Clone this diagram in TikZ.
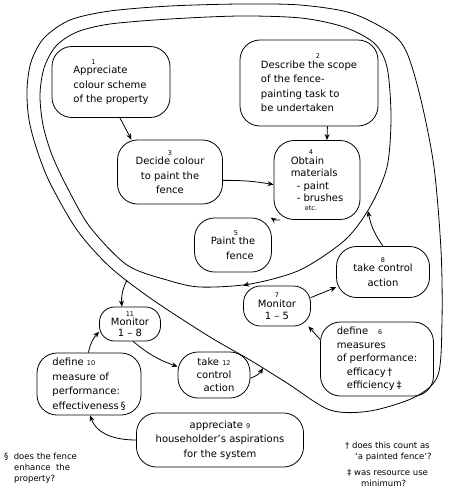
\documentclass[tikz,border=0pt]{standalone}
\usepackage{fontspec}
\setsansfont{DejaVu Sans}
\usetikzlibrary{arrows.meta}
\newcommand{\stepno}[1]{{\fontsize{6.5}{7}\selectfont #1}}
\begin{document}
\begin{tikzpicture}[x=1pt,y=-1pt]
    \tikzstyle{blob}=[draw,thick,rounded corners=20pt,inner sep=2pt,align=center,font=\sffamily\fontsize{10}{14.5}\selectfont]
    \tikzstyle{link}=[thick,-{Stealth[length=6pt,width=5pt]}]
    \tikzstyle{note}=[inner sep=0pt,align=left,anchor=north west,font=\sffamily\fontsize{8.5}{11}\selectfont]
    \useasboundingbox (0,0) rectangle (474,491);
    % the two system boundaries
    \draw[thick] plot[smooth cycle] coordinates {(240,4) (300,5) (351,13) (391,33) (407,53) (421,100) (434,167) (441,250) (442,320) (438,375) (415,397) (370,411) (330,410) (287,383) (250,360) (210,337) (153,300) (110,267) (77,230) (50,183) (37,150) (29,120) (27,90) (31,62) (44,38) (70,20) (110,11) (170,6)};
    \draw[thick] plot[smooth cycle] coordinates {(240,16) (301,18) (344,27) (374,43) (387,67) (391,117) (387,167) (370,207) (345,240) (300,270) (250,284) (200,287) (167,280) (127,265) (90,227) (67,187) (52,155) (43,125) (40,95) (44,68) (56,46) (77,32) (110,24) (170,19)};
    \coordinate (inA) at (368,211);
    \coordinate (inB) at (249,284);
    \coordinate (outA) at (127,280);
    \coordinate (outB) at (263,368);
    % inner system
    \node[blob,align=left,minimum width=118pt,minimum height=71pt] (appr) at (111,82) {\hspace*{18pt}\stepno{1}\\[-5pt]Appreciate\\colour scheme\\of the property};
    \node[blob,align=left,minimum width=138pt,minimum height=86pt] (scope) at (309,83) {\hspace*{55pt}\stepno{2}\\[-5pt]Describe the scope\\of the fence-\\painting task to\\be undertaken};
    \node[blob,minimum width=105pt,minimum height=64pt] (colour) at (170,172) {\stepno{3}\\[-5pt]Decide colour\\to paint the\\fence};
    \node[blob,align=left,minimum width=86pt,minimum height=79pt,font=\sffamily\fontsize{10}{12.5}\selectfont] (obtain) at (317,180) {\hspace*{18pt}\stepno{4}\\[-3pt]Obtain\\materials\\\hspace*{6pt}- paint\\\hspace*{6pt}- brushes\\[-4pt]\hspace*{14pt}{\fontsize{6.5}{7}\selectfont etc.}};
    \node[blob,minimum width=77pt,minimum height=54pt] (paint) at (233,245) {\hspace*{6pt}\stepno{5}\\[-5pt]Paint the\\\hspace*{14pt}fence};
    % monitoring and control
    \node[blob,minimum width=93pt,minimum height=51pt] (ctrl) at (383,272) {\stepno{8}\\[-5pt]take control\\action};
    \node[blob,rounded corners=17pt,minimum width=67pt,minimum height=40pt,font=\sffamily\fontsize{10}{12}\selectfont] (mon) at (277,306) {\stepno{7}\\[-2pt]Monitor\\1 -- 5};
    \node[blob,align=left,minimum width=113pt,minimum height=74pt,font=\sffamily\fontsize{10}{13.5}\selectfont] (meas) at (377,359) {define\hspace*{10pt}\stepno{6}\\measures\\of performance:\\\hspace*{10pt}efficacy\,\dag\\\hspace*{10pt}efficiency\,\ddag};
    \node[blob,rounded corners=15pt,minimum width=61pt,minimum height=34pt,inner sep=1pt,font=\sffamily\fontsize{10}{11}\selectfont] (monall) at (130,324) {\stepno{11}\\[-2pt]Monitor\\1 -- 8};
    \node[blob,align=left,minimum width=104pt,minimum height=62pt] (effect) at (89,384) {define \stepno{10}\\measure of\\performance:\\effectiveness\,\S};
    \node[blob,minimum width=72pt,minimum height=46pt,font=\sffamily\fontsize{10}{13}\selectfont] (act) at (214,375) {take \stepno{12}\\control\\\hspace*{10pt}action};
    \node[blob,minimum width=167pt,minimum height=54pt] (asp) at (220,440) {appreciate \stepno{9}\\householder's aspirations\\for the system};
    % connectors
    \draw[link] (appr.-76) -- (colour.140);
    \draw[link] (scope.-67) -- (obtain.76);
    \draw[link] (colour.-9) to[bend left=5] (obtain.186);
    \draw[link] (obtain.-133) to[bend left=20] (paint.36);
    \draw[link] (ctrl.north) to[bend left=12] (inA);
    \draw[link] (inB) -- (mon.149);
    \draw[link] (mon.14) -- (ctrl.198);
    \draw[link] (meas.161) -- (mon.-33);
    \draw[link] (outA) to[bend right=15] (monall.115);
    \draw[link] (monall.-80) to[bend right=10] (act.167);
    \draw[link] (effect.91) to[bend left=15] (monall.194);
    \draw[link] (asp.west) to[out=180,in=-70] (effect.-88);
    \draw[link] (act.-5) to[bend right=20] (outB);
    % footnotes
    \node[note] (fnS) at (4,453) {\S\ \ does the fence\\\hspace*{10pt}enhance\ \ the\\\hspace*{10pt}property?};
    \node[note] (fnA) at (345,442) {\dag\ does this count as\\\hspace*{10pt}`a painted fence'?};
    \node[note] (fnB) at (347,469) {\ddag\ was resource use\\\hspace*{14pt}minimum?};
\end{tikzpicture}
\end{document}
